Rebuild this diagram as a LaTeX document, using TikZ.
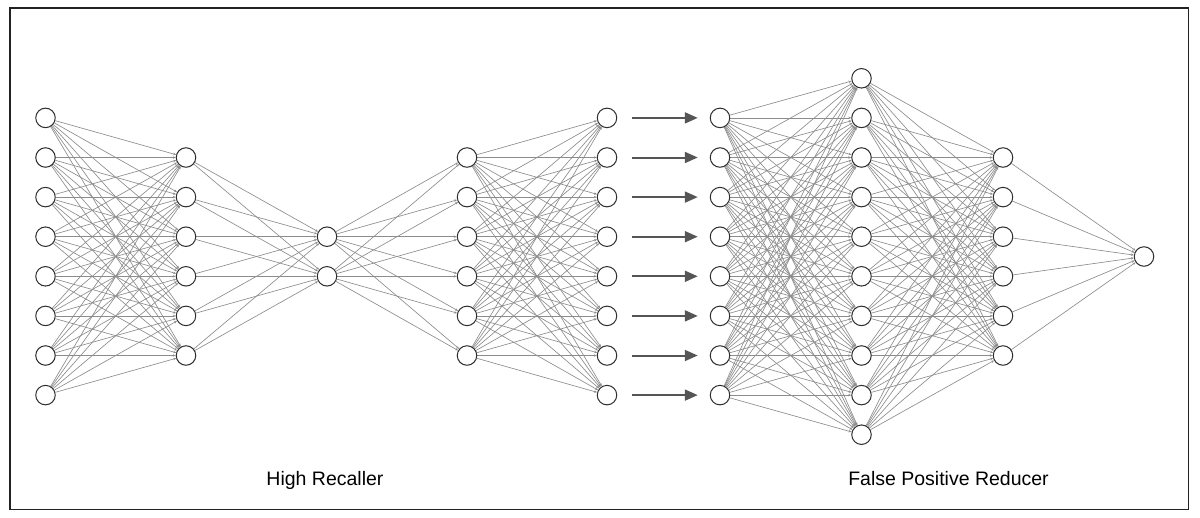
\documentclass[tikz,border=0pt]{standalone}
\usepackage{fontspec}
\setmainfont{Liberation Sans}
\usetikzlibrary{arrows.meta,backgrounds}
\definecolor{nodeline}{HTML}{2E2E2E}
\definecolor{edgecol}{HTML}{8C8C8C}
\definecolor{arrowcol}{HTML}{555555}
\definecolor{borderc}{HTML}{222222}
\begin{document}
\begin{tikzpicture}[x=1pt,y=-1pt,
  neuron/.style={circle,draw=nodeline,fill=white,line width=1pt,minimum size=19.5pt,inner sep=0pt},
  edge/.style={draw=edgecol,line width=0.65pt,-{Stealth[length=3pt,width=2.4pt]}},
  bigarrow/.style={draw=arrowcol,line width=2pt,-{Triangle[length=13pt,width=11pt]}},
  caption/.style={font=\fontsize{19.5}{22}\selectfont,anchor=base,inner sep=0pt}]
\useasboundingbox (0,0) rectangle (1200,517);
\draw[line width=1.5pt,draw=borderc] (10,8) rectangle (1188.5,509.5);
% neurons
\foreach \lname/\x/\n in {A/45.5/8, B/186/6, C/327/2, D/467/6, E/607/8, F/720/8, G/861.5/10, H/1003/6, I/1144/1} {
  \foreach \i in {1,...,\n} {
    \pgfmathsetmacro\yy{256.5+(\i-(\n+1)/2)*39.6}
    \node[neuron] (\lname\i) at (\x,\yy) {};
  }
}
% connections
\begin{pgfonlayer}{background}
\foreach \a/\na/\b/\nb in {A/8/B/6, B/6/C/2, C/2/D/6, D/6/E/8, F/8/G/10, G/10/H/6, H/6/I/1} {
  \foreach \i in {1,...,\na} {
    \foreach \j in {1,...,\nb} {
      \draw[edge] (\a\i) -- (\b\j);
    }
  }
}
\end{pgfonlayer}
% transfer arrows
\foreach \i in {1,...,8} {
  \draw[bigarrow] ([xshift=15pt]E\i.east) -- ([xshift=-12pt]F\i.west);
}
\node[caption] (hr) at (325,485) {High Recaller};
\node[caption] (fpr) at (948.5,485) {False Positive Reducer};
\end{tikzpicture}
\end{document}
